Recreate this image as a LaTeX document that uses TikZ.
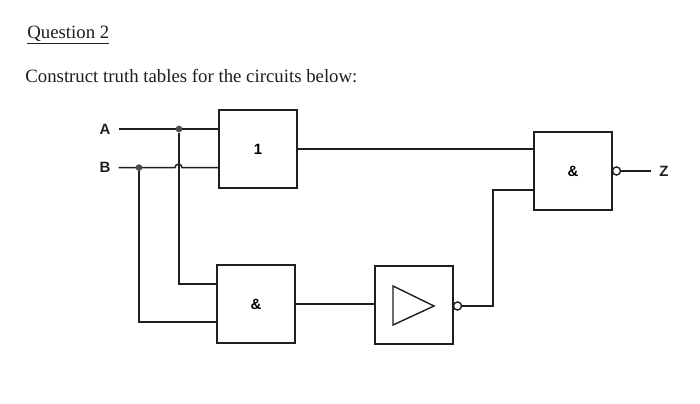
\documentclass[tikz,border=0pt]{standalone}
\usepackage{fontspec}
\setmainfont{Liberation Serif}
\setsansfont{Liberation Sans}
\definecolor{ink}{RGB}{30,30,30}
\pgfdeclarelayer{edgelayer}
\pgfdeclarelayer{nodelayer}
\pgfsetlayers{edgelayer,nodelayer,main}
\tikzstyle{gate}=[rectangle,fill=white,draw=ink,line width=0.9pt,minimum size=1.56cm,inner sep=0pt,font=\sffamily\bfseries\fontsize{8.5}{10}\selectfont]
\tikzstyle{pin}=[inner sep=4.5pt,text=ink,font=\sffamily\bfseries\fontsize{8.5}{10}\selectfont]
\tikzstyle{dot}=[circle,fill=ink!80,inner sep=0pt,minimum size=3.8pt]
\tikzstyle{bubble}=[circle,fill=white,draw=ink,line width=0.8pt,inner sep=0pt,minimum size=4.6pt]
\tikzstyle{wire}=[draw=ink,line width=0.8pt]
\tikzstyle{heading}=[anchor=base west,inner sep=0pt,text=ink,font=\fontsize{10.7}{13}\selectfont]

\begin{document}
\begin{tikzpicture}[x=0.02cm,y=-0.02cm]
        \useasboundingbox (0,0) rectangle (700,403);

        \begin{pgfonlayer}{nodelayer}
            \node [style = heading] (title) at (27,38) {\underline{Question 2}};
            \node [style = heading] (task) at (25,82) {Construct truth tables for the circuits below:};

            \node [style = pin] (a) at (105,129) {A};
            \node [style = pin] (b) at (105,167.6) {B};
            \node [style = pin] (z) at (664,171) {Z};

            \node [style = gate] (or) at (258,149) {1};
            \node [style = gate] (and) at (256,304) {\&};
            \node [style = gate] (inv) at (414,305) {};
            \node [style = gate] (nand) at (573,171) {\&};

            \node [style = dot] (da) at (179,129) {};
            \node [style = dot] (db) at (139,167.6) {};

            \node [style = bubble] (binv) at (457.5,306) {};
            \node [style = bubble] (bnand) at (616.5,171) {};

            \draw [wire, fill=white] (393,286) -- (434,306) -- (393,325) -- cycle;
        \end{pgfonlayer}

        \begin{pgfonlayer}{edgelayer}
            \coordinate (hopl) at (175,167.6);

            \draw [wire] (a.east) to (or.west |- a);
            \draw [wire] (b.east) to (hopl) arc (180:360:3.5) to (or.west |- b);
            \draw [wire] (da) |- (and.west |- 0,284);
            \draw [wire] (db) |- (and.west |- 0,322);
            \draw [wire] (or.east) to (nand.west |- or.east);
            \draw [wire] (and.east) to (inv.west |- and.east);
            \draw [wire] (binv) -| (493,190) to (nand.west |- 0,190);
            \draw [wire] (bnand) to (z.west);
        \end{pgfonlayer}
    \end{tikzpicture}
\end{document}
